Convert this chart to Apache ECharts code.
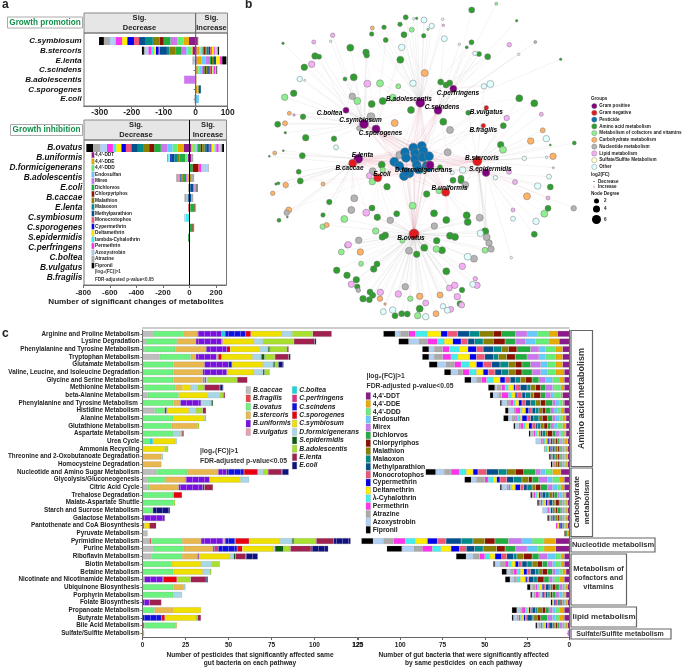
<!DOCTYPE html>
<html>
<head>
<meta charset="utf-8">
<title>Pesticides and gut bacteria</title>
<script src="https://cdn.jsdelivr.net/npm/echarts@6/dist/echarts.min.js"></script>
<style>
html, body { margin: 0; padding: 0; background: #fff; }
#main { width: 685px; height: 670px; }
</style>
</head>
<body>
<div id="main"></div>
<script>
var FONT = '"Liberation Sans", Arial, sans-serif';

// ---------- panel a ----------
var promoBacteria = ['C.symbiosum', 'B.stercoris', 'E.lenta', 'C.scindens', 'B.adolescentis', 'C.sporogenes', 'E.coli'];
var inhibBacteria = ['B.ovatus', 'B.uniformis', 'D.formicigenerans', 'B.adolescentis', 'E.coli', 'B.caccae', 'E.lenta',
    'C.symbiosum', 'C.sporogenes', 'S.epidermidis', 'C.perfringens', 'C.boltea', 'B.vulgatus', 'B.fragilis'];
var panelAPesticides = ["4,4'-DDT", "4,4'-DDE", "4,4'-DDD", 'Endosulfan', 'Mirex', 'Dichlorvos', 'Chlorpyriphos', 'Malathion', 'Malaoxon',
    'Methylparathion', 'Monocrotophos', 'Cypermethrin', 'Deltamethrin', 'lambda-Cyhalothrin', 'Permethrin', 'Azoxystrobin', 'Atrazine', 'Fipronil'];
var panelAColors = ['#8b1a8b', '#e6ac00', '#66ee77', '#66ccff', '#cc77ee', '#1fae3f', '#8b1100', '#8b8000', '#008b8b',
    '#04508f', '#ee5577', '#0000ee', '#ffee00', '#44eeee', '#ff33ee', '#b0d0f5', '#aaaaaa', '#000000'];

// rows follow promoBacteria, columns follow panelAPesticides
var promoDecrease = [
    [21, 16, 21, 0, 21, 21, 12, 22, 22, 21, 16, 21, 16, 0, 21, 17, 19, 15],
    [10, 3, 12, 5, 16, 18, 0, 18, 8, 22, 4, 8, 6, 8, 10, 9, 5, 6],
    [0, 0, 0, 0, 0, 0, 0, 0, 0, 3, 0, 0, 0, 0, 0, 3, 4, 0],
    [0, 0, 0, 0, 0, 0, 0, 0, 0, 0, 0, 0, 0, 0, 0, 2, 0, 0],
    [0, 0, 0, 0, 36, 0, 0, 0, 0, 0, 0, 0, 0, 0, 0, 0, 0, 0],
    [0, 0, 0, 0, 0, 0, 0, 0, 0, 0, 0, 0, 0, 0, 0, 0, 0, 0],
    [0, 0, 0, 0, 0, 0, 0, 0, 0, 0, 0, 0, 0, 0, 0, 0, 4, 0]
];
var promoIncrease = [
    [4, 0, 0, 0, 0, 0, 0, 4, 0, 0, 0, 0, 0, 0, 0, 0, 0, 0],
    [3, 8, 4, 3, 3, 5, 3, 5, 6, 5, 3, 2, 5, 3, 3, 4, 5, 3],
    [3, 14, 0, 14, 12, 5, 3, 3, 3, 4, 0, 3, 10, 2, 7, 0, 0, 13],
    [2, 6, 5, 5, 5, 5, 4, 3, 4, 5, 5, 2, 2, 4, 4, 2, 2, 2],
    [0, 2, 0, 0, 0, 0, 0, 0, 0, 0, 0, 0, 0, 0, 0, 0, 0, 0],
    [0, 6, 0, 2, 0, 0, 0, 2, 0, 6, 0, 0, 0, 0, 0, 0, 0, 0],
    [0, 0, 0, 10, 0, 0, 0, 0, 0, 0, 0, 0, 0, 0, 0, 0, 0, 0]
];
// rows follow inhibBacteria
var inhibDecrease = [
    [45, 45, 38, 38, 50, 50, 38, 40, 45, 50, 40, 35, 38, 25, 45, 50, 55, 50],
    [12, 4, 10, 4, 4, 40, 0, 20, 20, 20, 0, 12, 10, 6, 0, 4, 0, 2],
    [0, 0, 0, 0, 0, 0, 0, 0, 0, 0, 0, 0, 0, 0, 0, 0, 0, 0],
    [6, 6, 6, 0, 8, 20, 6, 10, 6, 6, 4, 0, 4, 0, 4, 0, 14, 0],
    [0, 0, 0, 0, 0, 0, 0, 0, 0, 4, 0, 0, 0, 0, 0, 0, 6, 0],
    [0, 0, 0, 0, 0, 0, 0, 0, 6, 6, 0, 0, 0, 0, 4, 6, 16, 0],
    [0, 0, 0, 0, 0, 0, 4, 0, 0, 0, 6, 0, 0, 0, 0, 0, 0, 0],
    [0, 0, 0, 0, 0, 0, 0, 0, 0, 0, 0, 0, 0, 30, 0, 10, 0, 0],
    [0, 0, 0, 0, 0, 0, 0, 0, 0, 0, 0, 0, 0, 0, 0, 0, 0, 0],
    [0, 0, 0, 0, 0, 10, 0, 0, 0, 0, 0, 0, 0, 0, 0, 0, 0, 0],
    [0, 0, 0, 0, 0, 0, 0, 0, 0, 0, 0, 0, 0, 0, 0, 0, 0, 0],
    [0, 0, 0, 0, 0, 0, 0, 0, 0, 0, 0, 0, 0, 0, 0, 0, 0, 0],
    [0, 0, 0, 0, 0, 0, 0, 0, 0, 0, 0, 0, 0, 0, 0, 0, 0, 0],
    [0, 0, 0, 0, 0, 0, 0, 0, 0, 0, 0, 0, 0, 0, 0, 0, 0, 0]
];
var inhibIncrease = [
    [12, 12, 20, 10, 10, 20, 12, 18, 12, 20, 12, 8, 22, 14, 18, 14, 12, 14],
    [12, 0, 0, 0, 0, 0, 0, 0, 0, 0, 0, 0, 0, 0, 0, 0, 16, 0],
    [0, 0, 0, 0, 0, 24, 40, 0, 0, 0, 8, 0, 0, 0, 18, 48, 7, 0],
    [0, 0, 0, 0, 0, 0, 0, 10, 0, 0, 0, 0, 0, 0, 0, 0, 25, 0],
    [0, 0, 0, 0, 0, 0, 0, 0, 6, 24, 0, 0, 0, 0, 8, 0, 16, 6],
    [0, 0, 0, 0, 0, 0, 0, 0, 0, 12, 0, 0, 0, 0, 0, 0, 16, 0],
    [0, 6, 0, 0, 0, 32, 4, 0, 0, 0, 0, 0, 0, 0, 0, 0, 8, 0],
    [0, 0, 0, 0, 0, 0, 0, 0, 0, 0, 0, 0, 0, 0, 0, 0, 0, 0],
    [0, 0, 0, 0, 0, 22, 5, 8, 0, 0, 0, 0, 0, 0, 0, 0, 0, 0],
    [0, 0, 0, 0, 0, 0, 0, 0, 0, 0, 0, 0, 0, 0, 0, 0, 0, 0],
    [0, 0, 0, 0, 0, 0, 0, 0, 0, 0, 3, 0, 0, 0, 0, 0, 0, 0],
    [0, 0, 0, 0, 0, 0, 0, 0, 0, 0, 0, 0, 0, 0, 0, 0, 0, 0],
    [0, 0, 0, 0, 0, 0, 0, 0, 0, 0, 0, 0, 0, 0, 0, 0, 0, 0],
    [0, 0, 0, 0, 0, 0, 0, 0, 0, 0, 0, 0, 0, 0, 0, 0, 0, 0]
];

// ---------- panel b ----------
var groupNames = ['Gram positive', 'Gram negative', 'Pesticide', 'Amino acid metabolism', 'Metabolism of cofactors and vitamins',
    'Carbohydrate metabolism', 'Nucleotide metabolism', 'Lipid metabolism', 'Sulfate/Sulfite Metabolism', 'Other'];
var groupColors = ['#800080', '#e41a1c', '#0a72b0', '#2e9e2e', '#90ee90', '#ffb366', '#b4b4b4', '#f5b0f5', '#ffffd4', '#e0ffff'];

// hubs: letter, name, x, y, diameter, group, label dx, label dy
var hubs = [
    ['p', 'C.perfringens', 453.3, 88.7, 7, 0, 4.7, 4.3],
    ['a', 'B.adolescentis', 420.3, 102.7, 9, 0, -11.3, -3.7],
    ['n', 'C.scindens', 438, 110.3, 8, 0, 4, -3.3],
    ['b', 'C.boltea', 346, 110.3, 6, 0, -16.5, 2.7],
    ['y', 'C.symbiosum', 364, 124, 9, 0, -3.5, -4],
    ['g', 'C.sporogenes', 376, 129, 8, 0, 4.5, 4.7],
    ['l', 'E.lenta', 358.3, 158.7, 9, 0, 4.2, -3.7],
    ['k', 'B.caccae', 352.7, 163.3, 8, 1, -3.2, 4.7],
    ['e', 'E.coli', 377.7, 177.7, 8, 1, 4.3, -3.7],
    ['m', 'D.formicigenerans', 430, 165, 8, 0, -6.5, 5],
    ['u', 'B.uniformis', 445.7, 192.3, 8, 1, 3.8, -4.3],
    ['o', 'B.ovatus', 414, 234, 10, 1, -3, 4.7],
    ['s', 'B.stercoris', 477.3, 161.3, 9, 1, 4.7, -3.3],
    ['d', 'S.epidermidis', 486, 172.7, 7.5, 0, 4.3, -3.2],
    ['v', 'B.vulgatus', 486.3, 107.7, 4.5, 1, 0, 4.3],
    ['f', 'B.fragilis', 483.3, 125.7, 4.5, 1, 0, 4.3]
];
// metabolite nodes: x, y, diameter, linked hubs (lower case decrease, upper case increase)
var aminoNodes = [
    [471.7, 10, 6, 'P'], [405.7, 17.3, 5, 'a'], [416.7, 18.3, 2.5, 'a'], [400, 24.3, 4.5, 'a'], [384, 27.3, 4.5, 'aN'], [371.7, 34, 4.5, 'a'],
    [404, 34.7, 6, 'aN'], [423.7, 35.7, 4.5, 'a'], [385.7, 40, 5, 'ag'], [283, 43.3, 2.5, 'y'], [471.5, 42.3, 5, 'an'], [466.7, 47.3, 3, 'n'],
    [479, 54, 5, 'nP'], [350.3, 47.7, 7, 'yA'], [366, 52.3, 6.5, 'yG'], [366.7, 55.3, 5.5, 'y'], [315, 56, 6.5, 'y'], [319, 56.7, 5, 'b'],
    [304.3, 67.3, 6.5, 'y'], [400.3, 59.7, 7, 'aG'], [487.7, 56.7, 6, 'an'], [353.7, 77.3, 7, 'yB'], [345, 79, 4, 'y'], [440.7, 82, 6, 'aN'],
    [446, 85, 6, 'an'], [449.7, 83, 6, 'n'], [293.7, 93.3, 6.5, 'y'], [382.7, 101, 7, 'gA'], [371.7, 104, 7, 'yA'], [411, 110, 7, 'aY'],
    [443.3, 121.7, 7, 'nA'], [303, 116.7, 5.5, 'y'], [277.7, 124.3, 6, 'y'], [285.3, 132.7, 2.5, 'y'], [305.7, 137.7, 6.5, 'y'], [334, 138.7, 5.5, 'y'],
    [283.3, 150.7, 2, 'l'], [269.3, 156.3, 2, 'k'], [302.3, 155.7, 6, 'l'], [468.3, 112.7, 5, 'sA'], [519.3, 98.3, 7, 'sN'], [534.3, 103.3, 7, 'sF'],
    [516.7, 20.7, 2.5, 'p'], [560.7, 59.3, 2.5, 'n'], [503.3, 125.7, 6, 'sF'], [500.7, 144.7, 6.5, 'sF'], [550.3, 145, 2, 's'], [574.3, 143, 4, 's'],
    [550.3, 187, 6, 'd'], [548, 208.3, 6, 'S'], [534.3, 234.3, 6, 'd'], [485.3, 231.7, 6.5, 'sd'], [426.7, 194, 6.5, 'oU'], [434, 213.3, 7, 'o'],
    [446.3, 220, 7, 'oU'], [466.7, 215.3, 7, 'ou'], [467.7, 222, 7, 'ou'], [436.7, 240.7, 6.5, 'O'], [450, 235.7, 7, 'oU'], [455, 237, 7, 'oU'],
    [424.3, 247.7, 7, 'o'], [442, 250.3, 7, 'O'], [416.7, 254.3, 6.5, 'o'], [446.3, 271.3, 7, 'o'], [462, 290, 5.5, 'o'], [460, 303.7, 6, 'o'],
    [419.7, 308.7, 7, 'o'], [401.7, 313.7, 6, 'o'], [407.3, 314, 6, 'o'], [298.7, 171.7, 5, 'k'], [278.3, 183.3, 3, 'k'], [276, 184, 2.5, 'k'],
    [300.3, 181, 6, 'kE'], [381.7, 164.7, 7, 'eL'], [387, 186.7, 6.5, 'eO'], [329.3, 202, 5.5, 'k'], [372, 208, 6, 'oE'], [323, 215, 4.5, 'k'],
    [396.7, 213.7, 6, 'oE'], [377.3, 217.3, 6.5, 'oE'], [279, 220.3, 4, 'k'], [287.3, 217, 2, 'k'], [385.3, 235.3, 6.5, 'o'], [382.3, 237, 6.5, 'O'],
    [377, 264, 6, 'o'], [373.7, 269, 6.5, 'o'], [336.7, 270.3, 6.5, 'o'], [347, 275.3, 6.5, 'o'], [356.3, 279.7, 6.5, 'o'], [357.3, 286.7, 5.5, 'o'],
    [370, 292, 6, 'o'], [372.7, 295.3, 6, 'o'], [363, 298.7, 6.5, 'o'], [369.3, 299.7, 6, 'o'], [395, 315.7, 6, 'o'], [453, 180.3, 6, 'uS'],
    [461, 178.3, 6, 'us'], [461, 180.7, 6, 'sD'], [420.7, 171, 5, 'mO'], [440, 167.3, 5, 'mU'], [485, 231.3, 7, 'so']
];
var cofactorNodes = [
    [411.7, 29.7, 5, 'a'], [428, 29.3, 2.5, 'a'], [380, 83.3, 7, 'aY'], [398.3, 86.3, 5, 'a'], [392.7, 97.7, 7, 'A'], [357.3, 101, 7, 'yG'],
    [284.7, 97.3, 6.5, 'y'], [496.3, 3.7, 3, 'p'], [503, 149.7, 7, 'S'], [544.3, 213.7, 7, 'D'], [382.7, 170, 5.5, 'eK'], [372.3, 181.7, 6.5, 'eK'],
    [412.7, 205.7, 7, 'oU'], [344.3, 219, 7, 'o'], [322.7, 226.7, 5.5, 'k'], [375.7, 231, 6.5, 'o'], [402.3, 240.7, 5, 'o'], [341.3, 252, 6, 'o'],
    [361, 263.7, 5, 'o'], [436.3, 249, 6.5, 'o'], [439, 190.7, 6, 'uO'], [410.3, 298.7, 5.5, 'o'], [417.7, 315.7, 6.5, 'o'], [485, 250.3, 6, 'o']
];
var carbNodes = [
    [372.3, 28, 4, 'a'], [424.7, 73, 7, 'aN'], [394.7, 123, 7, 'yG'], [289.3, 113.3, 4, 'y'], [285, 123.3, 5, 'y'], [274.7, 153, 4, 'l'],
    [542.7, 130.3, 5, 's'], [530.7, 141, 6.5, 'S'], [553, 156.3, 6.5, 's'], [527, 196.3, 7, 'D'], [285.7, 185, 5.5, 'K'], [272.7, 193.3, 4.5, 'k'],
    [323, 184, 4, 'E'], [288.7, 210, 6, 'E'], [326.7, 225, 5, 'o'], [360.3, 252, 6.5, 'o'], [380, 298.7, 5.5, 'o'], [385, 304, 2.5, 'o'],
    [419.7, 296.3, 6.5, 'o'], [440, 295, 6, 'o'], [436, 313.7, 6, 'o']
];
var nucleotideNodes = [
    [352.3, 96.3, 6.5, 'yA'], [371, 116.7, 8, 'yG'], [359, 128.3, 5, 'y'], [450, 130, 7, 'nS'], [399.3, 155, 7, 'gL'], [447.7, 152.3, 7, 'sN'],
    [573.7, 208.3, 5.5, 'd'], [479.7, 217.7, 7, 'ou'], [486.7, 237.3, 7, 'os'], [286.7, 212.7, 5.5, 'k'], [354.3, 198.3, 7, 'kO'], [351.3, 210, 7, 'kO'],
    [372.7, 171.3, 7, 'kE'], [390.3, 220.3, 6.5, 'oe'], [434.3, 226, 6.5, 'O'], [358.7, 240.3, 6.5, 'o'], [347.3, 245.3, 5.5, 'o'], [409, 250.7, 7, 'o'],
    [405.3, 286.7, 6.5, 'o'], [358.3, 290.3, 4.5, 'o'], [474, 258.7, 7, 'o'], [465.3, 185, 7, 'us'], [489, 243, 6.5, 's'], [491, 249, 6.5, 'so'],
    [535.3, 42, 3, 'n']
];
var lipidNodes = [
    [332.7, 35.3, 4.5, 'y'], [313.7, 42, 4, 'y'], [311.7, 64.3, 6.5, 'y'], [367.3, 83.7, 7, 'yA'], [443.3, 25.3, 2.5, 'a'], [294, 115, 2.5, 'b'],
    [509.3, 44.7, 4.5, 'P'], [506.7, 118, 5.5, 'V'], [541.3, 114.3, 4, 's'], [509, 171.7, 5, 'D'], [515, 182, 5, 'D'], [553.3, 167.7, 2, 's'],
    [548, 198, 4, 'D'], [513, 210, 4, 's'], [369.3, 175.7, 6, 'K'], [366.3, 212.7, 7, 'oK'], [348.3, 244.7, 6.5, 'o'], [351.3, 284.3, 6.5, 'o'],
    [380.3, 292.3, 6.5, 'o'], [398.3, 294, 6.5, 'o'], [425.7, 303, 6, 'o'], [449.3, 288, 6, 'o'], [454.7, 285.3, 6.5, 'o'], [457.3, 296.7, 6.5, 'o'],
    [461.7, 305, 6, 'o'], [450.7, 309.3, 6, 'o'], [462.3, 266.3, 6.5, 'o'], [475.3, 278.7, 4.5, 'o'], [477, 285.3, 6.5, 'o']
];
var sulfateNodes = [[304.7, 80.3, 2, 'y']];
var otherNodes = [
    [413.7, 18.7, 2.5, 'a'], [424, 20, 6, 'a'], [431.7, 26, 5.5, 'a'], [442.7, 19.3, 2.5, 'a'], [444.3, 38.7, 6, 'n'], [459.3, 44.3, 2.5, 'n'],
    [475, 53.3, 4.5, 'n'], [401.7, 47.3, 6.5, 'ag'], [330.7, 41.3, 2.5, 'y'], [299.7, 79, 5.5, 'y'], [413, 83.3, 6.5, 'aN'], [336, 147.3, 5, 'l'],
    [518.7, 54.3, 2.5, 'n'], [484, 86.3, 5.5, 'sP'], [490.3, 84, 7, 'p'], [546.3, 138.7, 6.5, 's'], [524.3, 158.3, 4.5, 's'], [546.7, 157.3, 2.5, 's'],
    [495.3, 177.7, 4.5, 'D'], [549, 176.7, 5, 'd'], [537.7, 186, 6.5, 'd'], [513, 218.7, 5, 'S'], [536, 221.3, 6.5, 'd'], [480.3, 233.3, 6.5, 'so'],
    [462.7, 170, 6.5, 'S'], [452.3, 172.7, 4, 'sM'], [383.3, 311.7, 6, 'o'], [392.7, 310, 6.5, 'o'], [425.7, 316.7, 6.5, 'o'], [443, 306.3, 5.5, 'o'],
    [447.3, 310.3, 6, 'o'], [467.7, 256.7, 7, 'o'], [472.7, 284.3, 6, 'o'], [511.3, 257.7, 2.5, 'd']
];
// pesticide nodes: x, y and the bacteria each one changes
var pesticideNodes = [
    [413.3, 147.7, 9, 'OoUSsYyKLEGAaMNpb'], [421.7, 146, 9, 'OUuSdYKlEgAMNpf'], [405, 152.3, 9, 'OoUSDYyLkEGaAN'], [415, 153.3, 9, 'OUuSdKLEyGANMb'],
    [423.3, 151, 9, 'OoUSDYlKEGAnMv'], [406, 157.7, 9, 'OUSsYKLEeGAN'], [415, 159, 9, 'OoUuSDyKLEGaMp'], [422.7, 157.3, 9, 'OUSdYKLeGANf'],
    [429, 156.3, 9, 'OoUSDYKLEgAMb'], [394.3, 161.7, 9, 'OUSsYkLEGaNv'], [399.3, 166, 9, 'OoUSDyKLEGAMN'], [416.7, 165, 9, 'OUuSYKlEGANp'],
    [426.7, 165.7, 9, 'OoUSdYKLEGaN'], [418.3, 169.3, 9, 'OUSDyKLEGAMf'], [409.3, 173.3, 9, 'OoUSYKLeGANb'], [404, 176, 9, 'OUuSDYKLEgAM'],
    [406, 172, 9, 'OoUSYkLEGAN'], [428.7, 167.3, 9, 'OUSdYKLEGaMv']
];

// ---------- panel c ----------
var pathways = ['Arginine and Proline Metabolism', 'Lysine Degradation', 'Phenylalanine and Tyrosine Metabolism', 'Tryptophan Metabolism',
    'Glutamate Metabolism', 'Valine, Leucine, and Isoleucine Degradation', 'Glycine and Serine Metabolism', 'Methionine Metabolism',
    'beta-Alanine Metabolism', 'Phenylalanine and Tyrosine Metabolism ', 'Histidine Metabolism', 'Alanine Metabolism', 'Glutathione Metabolism',
    'Aspartate Metabolism', 'Urea Cycle', 'Ammonia Recycling', 'Threonine and 2-Oxobutanoate Degradation', 'Homocysteine Degradation',
    'Nucleotide and Amino Sugar Metabolism', 'Glycolysis/Gluconeogenesis', 'Citric Acid Cycle', 'Trehalose Degradation', 'Malate-Aspartate Shuttle',
    'Starch and Sucrose Metabolism', 'Galactose Metabolism', 'Pantothenate and CoA Biosynthesis', 'Pyruvate Metabolism', 'Pyrimidine Metabolism',
    'Purine Metabolism', 'Riboflavin Metabolism', 'Biotin Metabolism', 'Betaine Metabolism', 'Nicotinate and Nicotinamide Metabolism',
    'Ubiquinone Biosynthesis', 'Porphyrin Metabolism', 'Folate Biosynthesis', 'Propanoate Metabolism', 'Butyrate Metabolism', 'Bile Acid Metabolism',
    'Sulfate/Sulfite Metabolism'];
var panelCBacteria = ['B.caccae', 'B.fragilis', 'B.ovatus', 'B.stercoris', 'B.uniformis', 'B.vulgatus', 'C.boltea', 'C.perfringens', 'C.scindens',
    'C.sporogenes', 'C.symbiosum', 'D.formicigenerans', 'S.epidermidis', 'B.adolescentis', 'E.lenta', 'E.coli'];
var panelCBacteriaColors = ['#bdbdbd', '#e8454a', '#6cf27e', '#e8b84f', '#7a10e0', '#e8a0b0', '#10d8e0', '#e03080', '#1010e0',
    '#e80010', '#f0e000', '#a8d8e8', '#0c5c10', '#a8e030', '#a02050', '#101080'];
// rows follow pathways, columns follow panelCBacteria
var bacteriaPerPathway = [
    [6, 0, 18, 8, 14, 0, 2, 0, 12, 3, 18, 6, 0, 12, 11, 0],
    [2, 0, 18, 11, 15, 1, 0, 0, 0, 0, 18, 5, 0, 18, 12, 1],
    [1, 0, 18, 18, 12, 0, 0, 0, 0, 2, 17, 5, 1, 10, 1, 0],
    [10, 0, 18, 3, 12, 1, 0, 0, 0, 2, 18, 5, 2, 6, 8, 1],
    [0, 0, 18, 18, 14, 0, 0, 0, 2, 0, 18, 6, 1, 2, 0, 3],
    [0, 0, 18, 17, 14, 0, 0, 0, 0, 0, 16, 5, 1, 3, 0, 0],
    [0, 0, 18, 17, 0, 0, 1, 1, 0, 0, 0, 1, 0, 17, 6, 0],
    [1, 0, 18, 4, 0, 0, 0, 0, 0, 0, 5, 4, 0, 4, 9, 2],
    [3, 0, 18, 0, 0, 0, 0, 0, 0, 0, 17, 7, 0, 2, 1, 0],
    [0, 0, 18, 4, 12, 0, 0, 0, 0, 0, 0, 6, 1, 0, 0, 0],
    [7, 0, 6, 0, 0, 0, 0, 0, 1, 0, 13, 4, 0, 4, 2, 0],
    [0, 0, 18, 0, 0, 0, 0, 0, 0, 0, 18, 0, 0, 1, 0, 0],
    [0, 0, 17, 15, 0, 0, 0, 0, 0, 0, 0, 0, 0, 1, 0, 0],
    [0, 0, 18, 0, 0, 0, 0, 0, 0, 0, 0, 4, 0, 1, 1, 0],
    [0, 0, 4, 0, 0, 0, 2, 0, 0, 0, 13, 1, 0, 0, 0, 0],
    [0, 0, 0, 0, 0, 0, 0, 0, 0, 0, 13, 0, 0, 2, 0, 0],
    [0, 0, 0, 11, 0, 0, 0, 0, 0, 0, 0, 1, 0, 0, 0, 0],
    [0, 0, 0, 11, 0, 0, 0, 0, 0, 0, 0, 0, 0, 0, 0, 0],
    [8, 0, 18, 18, 5, 0, 0, 0, 10, 8, 0, 3, 0, 3, 8, 4],
    [3, 0, 10, 12, 14, 0, 0, 0, 0, 0, 18, 5, 0, 0, 0, 0],
    [3, 0, 1, 17, 14, 0, 0, 0, 0, 0, 0, 0, 1, 0, 5, 0],
    [0, 0, 18, 0, 0, 0, 0, 0, 0, 5, 0, 0, 0, 0, 0, 0],
    [0, 0, 18, 0, 0, 0, 0, 0, 0, 0, 0, 0, 0, 1, 0, 0],
    [0, 0, 6, 0, 0, 0, 0, 0, 0, 0, 0, 0, 0, 0, 0, 10],
    [0, 0, 0, 0, 13, 0, 0, 0, 0, 0, 0, 0, 0, 0, 0, 0],
    [0, 1, 0, 0, 0, 0, 0, 0, 0, 0, 3, 0, 0, 0, 4, 0],
    [3, 0, 0, 0, 0, 0, 0, 0, 0, 0, 0, 0, 0, 0, 0, 0],
    [4, 1, 18, 11, 13, 1, 0, 0, 6, 8, 18, 7, 1, 13, 10, 10],
    [6, 0, 18, 17, 1, 0, 0, 2, 11, 3, 18, 1, 5, 4, 12, 10],
    [5, 0, 18, 9, 1, 0, 0, 0, 0, 0, 18, 2, 1, 0, 6, 7],
    [0, 0, 17, 0, 0, 0, 0, 0, 0, 0, 17, 6, 0, 5, 0, 0],
    [0, 0, 18, 0, 0, 0, 0, 0, 0, 0, 17, 4, 0, 1, 0, 0],
    [0, 0, 1, 0, 11, 0, 0, 0, 0, 8, 0, 0, 0, 8, 9, 1],
    [0, 0, 18, 6, 0, 0, 0, 0, 0, 0, 0, 1, 0, 0, 0, 0],
    [0, 0, 18, 0, 0, 0, 0, 0, 0, 0, 0, 5, 0, 0, 0, 0],
    [0, 0, 0, 0, 4, 0, 0, 0, 0, 0, 0, 0, 0, 0, 7, 0],
    [0, 0, 7, 11, 0, 0, 0, 0, 0, 0, 16, 0, 0, 0, 0, 0],
    [0, 0, 0, 0, 0, 0, 0, 0, 11, 2, 18, 0, 0, 1, 2, 0],
    [0, 1, 18, 1, 0, 0, 0, 0, 0, 0, 0, 0, 0, 0, 0, 0],
    [0, 0, 0, 1, 0, 0, 0, 0, 0, 0, 0, 0, 0, 0, 0, 0]
];
var panelCPesticides = ["4,4'-DDT", "4,4'-DDE", "4,4'-DDD", 'Endosulfan', 'Mirex', 'Dichlorvos', 'Chlorpyriphos', 'Malathion', 'Malaoxon',
    'Methylparathion', 'Monocrotophos', 'Cypermethrin', 'Deltamethrin', 'λ-Cyhalothrin', 'Permethrin', 'Atrazine', 'Azoxystrobin', 'Fipronil'];
var panelCPesticideColors = ['#8b1a8b', '#e6ac00', '#66ee77', '#66ccff', '#cc77ee', '#1fae3f', '#8b1100', '#8b8000', '#008b8b',
    '#04508f', '#ee5577', '#0000ee', '#ffee00', '#44eeee', '#ff33ee', '#aaaaaa', '#b0d0f5', '#000000'];
// rows follow pathways, columns follow panelCPesticides
var pesticidesPerPathway = [
    [7, 5, 7, 6, 7, 8, 5, 8, 6, 7, 6, 4, 8, 7, 4, 5, 3, 7],
    [6, 6, 8, 6, 6, 6, 7, 6, 5, 4, 4, 5, 5, 4, 6, 5, 6, 6],
    [4, 4, 6, 4, 5, 8, 5, 4, 5, 6, 4, 5, 5, 6, 4, 5, 3, 4],
    [4, 4, 6, 4, 7, 7, 5, 5, 3, 5, 5, 4, 7, 4, 5, 5, 3, 4],
    [4, 4, 5, 4, 6, 5, 4, 4, 5, 5, 5, 4, 4, 5, 4, 5, 5, 5],
    [3, 5, 5, 4, 5, 6, 4, 4, 4, 4, 4, 3, 4, 4, 4, 3, 4, 4],
    [3, 3, 4, 4, 4, 4, 4, 3, 3, 3, 3, 3, 4, 4, 3, 3, 3, 4],
    [3, 2, 4, 1, 4, 3, 3, 3, 2, 4, 3, 1, 3, 2, 2, 3, 1, 4],
    [4, 1, 4, 2, 3, 3, 4, 2, 3, 2, 3, 1, 2, 2, 4, 2, 3, 2],
    [3, 1, 2, 2, 2, 4, 3, 3, 3, 3, 2, 2, 2, 1, 2, 2, 3, 1],
    [3, 2, 2, 2, 2, 3, 2, 2, 2, 2, 2, 2, 2, 1, 3, 1, 3, 2],
    [2, 2, 2, 2, 2, 3, 3, 2, 3, 2, 2, 3, 1, 2, 1, 2, 2, 3],
    [2, 2, 3, 2, 2, 2, 2, 2, 2, 1, 2, 2, 2, 1, 2, 1, 2, 1],
    [2, 1, 2, 1, 2, 2, 3, 1, 2, 1, 1, 0, 1, 1, 1, 1, 1, 1],
    [1, 2, 1, 1, 1, 1, 1, 1, 1, 1, 1, 1, 1, 1, 1, 1, 3, 0],
    [1, 1, 1, 1, 1, 1, 1, 1, 1, 1, 1, 1, 1, 1, 0, 1, 0, 0],
    [1, 1, 1, 1, 1, 1, 1, 1, 1, 1, 0, 0, 0, 0, 0, 1, 0, 1],
    [1, 1, 1, 1, 1, 1, 1, 1, 0, 0, 1, 0, 0, 0, 0, 1, 0, 1],
    [5, 5, 4, 3, 3, 7, 5, 5, 5, 7, 5, 3, 4, 4, 5, 4, 5, 6],
    [3, 3, 4, 3, 5, 4, 2, 4, 5, 4, 4, 2, 2, 3, 2, 5, 3, 4],
    [3, 2, 2, 3, 3, 4, 3, 2, 3, 2, 2, 3, 2, 1, 1, 1, 3, 1],
    [2, 1, 1, 2, 1, 2, 1, 2, 2, 2, 1, 1, 1, 1, 1, 1, 0, 1],
    [1, 1, 1, 1, 1, 1, 2, 1, 1, 2, 1, 1, 1, 1, 1, 1, 0, 1],
    [1, 1, 1, 1, 1, 2, 1, 1, 1, 1, 0, 0, 0, 1, 1, 0, 3, 0],
    [1, 1, 1, 1, 1, 1, 1, 1, 1, 1, 0, 0, 0, 0, 1, 1, 0, 1],
    [1, 1, 1, 0, 1, 0, 0, 0, 0, 1, 0, 1, 1, 0, 1, 0, 0, 0],
    [0, 1, 0, 0, 0, 1, 1, 0, 0, 0, 0, 0, 0, 0, 0, 0, 0, 0],
    [8, 7, 7, 6, 8, 8, 6, 7, 7, 9, 5, 6, 7, 6, 7, 6, 6, 7],
    [8, 7, 4, 6, 7, 6, 5, 8, 5, 5, 4, 5, 6, 5, 6, 5, 7, 9],
    [3, 2, 3, 5, 5, 4, 5, 4, 2, 4, 3, 4, 3, 3, 3, 4, 4, 6],
    [3, 2, 3, 2, 3, 3, 3, 3, 3, 3, 2, 2, 2, 2, 2, 3, 3, 1],
    [2, 2, 2, 2, 2, 3, 3, 2, 2, 3, 2, 2, 2, 2, 2, 2, 2, 3],
    [3, 3, 3, 1, 2, 3, 4, 0, 2, 3, 1, 1, 3, 2, 0, 2, 2, 3],
    [1, 1, 1, 1, 2, 2, 2, 1, 1, 2, 1, 1, 2, 1, 1, 2, 1, 2],
    [2, 1, 1, 2, 2, 2, 1, 1, 1, 1, 1, 1, 1, 1, 2, 1, 1, 1],
    [1, 1, 0, 1, 1, 1, 1, 0, 1, 0, 1, 1, 1, 0, 0, 0, 0, 1],
    [3, 3, 2, 2, 2, 2, 2, 3, 1, 2, 1, 1, 1, 1, 2, 1, 2, 3],
    [3, 3, 2, 2, 3, 4, 2, 2, 1, 3, 1, 1, 1, 1, 1, 1, 2, 1],
    [1, 1, 1, 1, 2, 1, 1, 1, 1, 2, 1, 1, 1, 1, 1, 1, 1, 1],
    [0, 0, 0, 0, 1, 0, 0, 0, 0, 0, 0, 0, 0, 0, 0, 0, 0, 0]
];

// 深色的条带上有细小的竖纹
var stripedBacteria = ['B.uniformis', 'C.scindens', 'E.coli'];

// 画堆叠条形图的系列
function stackSeries(rows, names, colors, sign, gridIdx, stack, barWidth, border) {
    return names.map(function (name, j) {
        var style = { color: colors[j], borderColor: border ? 'rgba(110,110,110,.35)' : null, borderWidth: border ? 0.5 : 0 };
        if (border && stripedBacteria.indexOf(name) >= 0) {
            style.decal = { symbol: 'rect', symbolSize: 1, color: 'rgba(255,255,255,.3)', dashArrayX: [0.7, 4.5], dashArrayY: [10, 0] };
        }
        return {
            name: name,
            type: 'bar',
            stack: stack,
            xAxisIndex: gridIdx,
            yAxisIndex: gridIdx,
            barWidth: barWidth,
            itemStyle: style,
            data: rows.map(function (r) { return r[j] ? sign * r[j] : null; })
        };
    });
}

function barXAxis(gridIdx, opt) {
    return Object.assign({
        gridIndex: gridIdx,
        type: 'value',
        splitLine: { show: false },
        axisLine: { show: true, lineStyle: { color: '#666', width: 1 } },
        axisTick: { show: true, length: 3, lineStyle: { color: '#666' } }
    }, opt);
}
function barYAxis(gridIdx, cats, opt) {
    return Object.assign({
        gridIndex: gridIdx,
        type: 'category',
        inverse: true,
        data: cats,
        axisLine: { show: true, lineStyle: { color: '#666', width: 1 } },
        axisTick: { show: true, length: 2, alignWithLabel: true, lineStyle: { color: '#666' } }
    }, opt);
}

// 网络图节点和边
var graphNodes = [];
var graphLinks = [];
var hubIndex = {};
var pendingLinks = [];
function addNodes(list, group) {
    list.forEach(function (n) {
        pendingLinks.push([graphNodes.length, n[3]]);
        graphNodes.push({ name: 'n' + graphNodes.length, value: [n[0], n[1]], symbolSize: n[2], category: group });
    });
}
addNodes(aminoNodes, 3);
addNodes(cofactorNodes, 4);
addNodes(carbNodes, 5);
addNodes(nucleotideNodes, 6);
addNodes(lipidNodes, 7);
addNodes(sulfateNodes, 8);
addNodes(otherNodes, 9);
addNodes(pesticideNodes, 2);
hubs.forEach(function (h) {
    hubIndex[h[0]] = graphNodes.length;
    graphNodes.push({
        name: h[1], value: [h[2], h[3]], symbolSize: h[4], category: h[5],
        label: { show: true, position: 'inside', offset: [h[6], h[7]], formatter: h[1] }
    });
});
pendingLinks.forEach(function (p) {
    p[1].split('').forEach(function (c) {
        var low = c.toLowerCase();
        graphLinks.push({
            source: p[0],
            target: hubIndex[low],
            lineStyle: { color: c === low ? 'rgba(140,140,140,.24)' : 'rgba(244,160,180,.28)', width: 0.8 }
        });
    });
});

// 图上的方框、文字
function box(x, y, w, h, fill, stroke, lw) {
    return { type: 'rect', shape: { x: x, y: y, width: w, height: h }, style: { fill: fill || 'none', stroke: stroke || '#777', lineWidth: lw || 1 }, z: 1 };
}
function label(text, x, y, font, opt) {
    return {
        type: 'text', x: x, y: y, z: 20, rotation: (opt && opt.rotation) || 0,
        style: {
            text: text, font: font + ' ' + FONT, fill: (opt && opt.fill) || '#222',
            textAlign: (opt && opt.align) || 'left', textVerticalAlign: 'middle', lineHeight: opt && opt.lineHeight
        }
    };
}
function line(x1, y1, x2, y2, color, w) {
    return { type: 'line', z: 15, shape: { x1: x1, y1: y1, x2: x2, y2: y2 }, style: { stroke: color, lineWidth: w } };
}
function dot(x, y, r, color, stroke) {
    return { type: 'circle', z: 20, shape: { cx: x, cy: y, r: r }, style: { fill: color, stroke: stroke || null, lineWidth: stroke ? 0.4 : 0 } };
}
function swatchList(names, colors, sx, y0, dy, sw, sh, tx, font) {
    var out = [];
    names.forEach(function (name, i) {
        var y = y0 + i * dy;
        out.push({ type: 'rect', z: 20, shape: { x: sx, y: y - sh / 2, width: sw, height: sh }, style: { fill: colors[i], stroke: 'rgba(120,120,120,.5)', lineWidth: 0.4 } });
        out.push(label(name, tx, y, font));
    });
    return out;
}
function dotList(names, colors, cx, y0, dy, r, tx, font) {
    var out = [];
    names.forEach(function (name, i) {
        out.push(dot(cx, y0 + i * dy, r, colors[i], '#777'));
        out.push(label(name, tx, y0 + i * dy, font));
    });
    return out;
}

var graphics = [
    label('a', 2, 5, 'bold 12px'), label('b', 245, 5, 'bold 12px'), label('c', 2, 334, 'bold 12px'),
    box(7.5, 17, 75, 11, '#fff', '#aaa'), label('Growth promotion', 45, 22.5, 'bold 8.2px', { align: 'center', fill: '#12904a' }),
    box(84, 13, 111.5, 20, '#e6e6e6', '#888'), box(195.5, 13, 32, 20, '#e6e6e6', '#888'),
    label('Sig.\nDecrease', 139.5, 23, 'bold 7.5px', { align: 'center', lineHeight: 10 }),
    label('Sig.\nIncrease', 211.5, 23, 'bold 7.5px', { align: 'center', lineHeight: 10 }),
    box(84, 33, 143.5, 73, 'none', '#777'),
    line(195.7, 13, 195.7, 106, '#666', 1),
    box(10.5, 124.5, 72, 11, '#fff', '#aaa'), label('Growth inhibition', 46.5, 130, 'bold 8.2px', { align: 'center', fill: '#12904a' }),
    box(84, 120, 105.5, 20, '#e6e6e6', '#888'), box(189.5, 120, 37, 20, '#e6e6e6', '#888'),
    label('Sig.\nDecrease', 136, 130, 'bold 7.5px', { align: 'center', lineHeight: 10 }),
    label('Sig.\nIncrease', 208, 130, 'bold 7.5px', { align: 'center', lineHeight: 10 }),
    box(84, 140, 142.5, 145, 'none', '#777'),
    line(189.5, 120, 189.5, 285, '#000', 1),
    label('|log₂(FC)|>1', 95, 272, 'bold 4.6px', { fill: '#333' }),
    label('FDR-adjusted p-value<0.05', 95, 280, 'bold 4.6px', { fill: '#333' }),
    label('Number of significant changes of metabolites', 136, 301.5, 'bold 8.1px', { align: 'center' }),

    label('Groups', 591, 99, 'bold 4.6px'),
    label('log2(FC)', 591, 175, 'bold 4.6px'),
    dot(594, 181.5, 0.6, '#111'), label('Decrease', 598, 181.5, 'bold 4.6px'),
    dot(594, 187, 0.6, '#c02040'), label('Increase', 598, 187, 'bold 4.6px'),
    label('Node Degree', 591, 193.5, 'bold 4.6px'),
    dot(596.5, 201, 2.5, '#000'), label('2', 604, 201, 'bold 4.6px'),
    dot(596.5, 209, 3.5, '#000'), label('4', 604, 209, 'bold 4.6px'),
    dot(596.5, 219.5, 4.5, '#000'), label('6', 604, 219.5, 'bold 4.6px'),

    line(142, 328, 569.5, 328, '#bdbdbd', 1.5),
    label('|log₂(FC)|>1', 200, 451, 'bold 6.8px', { fill: '#333' }),
    label('FDR-adjusted p-value<0.05', 200, 460.7, 'bold 6.8px', { fill: '#333' }),
    label('|log₂(FC)|>1', 366.5, 375.7, 'bold 6.8px', { fill: '#333' }),
    label('FDR-adjusted p-value<0.05', 366.5, 385.7, 'bold 6.8px', { fill: '#333' }),
    label('Number of pesticides that significantly affected same\ngut bacteria on each pathway', 250, 659, 'bold 6.6px', { align: 'center', lineHeight: 8 }),
    label('Number of gut bacteria that were significantly affected\nby same pesticides  on each pathway', 463.7, 659, 'bold 6.6px', { align: 'center', lineHeight: 8 }),

    box(571, 330.5, 21.5, 136, '#fff', '#666', 1.2),
    label('Amino acid metabolism', 581.5, 398.5, 'bold 9px', { align: 'center', rotation: Math.PI / 2, fill: '#333' }),
    box(571, 468, 21.5, 68.5, '#fff', '#666', 1.2),
    label('Carbohydrate\nmetabolism', 581.5, 502, 'bold 8px', { align: 'center', rotation: Math.PI / 2, fill: '#333', lineHeight: 10 }),
    box(571, 538, 84, 14, '#fff', '#666', 1.2),
    label('Nucleotide metabolism', 613, 545, 'bold 7.5px', { align: 'center', fill: '#333' }),
    box(571, 554, 55.5, 51, '#fff', '#666', 1.2),
    label('Metabolism of\ncofactors and\nvitamins', 598.5, 578, 'bold 7.5px', { align: 'center', fill: '#333', lineHeight: 9 }),
    box(571, 607, 65.5, 20, '#fff', '#666', 1.2),
    label('lipid metabolism', 604, 617, 'bold 8px', { align: 'center', fill: '#333' }),
    box(571, 629, 100, 10, '#fff', '#666', 1.2),
    label('Sulfate/Sulfite metabolism', 620, 634, 'bold 7px', { align: 'center', fill: '#333' })
]
    .concat(swatchList(panelAPesticides, panelAColors, 91.7, 155, 6.5, 2.5, 5.5, 95, 'bold 4.8px'))
    .concat(dotList(groupNames, groupColors, 594.3, 106, 6.77, 2.6, 599.3, 'bold 4.6px'))
    .concat(swatchList(panelCBacteria.slice(0, 6), panelCBacteriaColors.slice(0, 6), 246, 390, 8.4, 4.5, 7, 253, 'italic bold 6.8px'))
    .concat(swatchList(panelCBacteria.slice(6), panelCBacteriaColors.slice(6), 292.3, 390, 8.4, 4.5, 7, 299.3, 'italic bold 6.8px'))
    .concat(swatchList(panelCPesticides, panelCPesticideColors, 366, 396, 7.87, 4.5, 7, 372.7, 'bold 6.8px'));

var series = []
    .concat(stackSeries(promoDecrease, panelAPesticides, panelAColors, -1, 0, 'a1', 8, false))
    .concat(stackSeries(promoIncrease, panelAPesticides, panelAColors, 1, 0, 'a1', 8, false))
    .concat(stackSeries(inhibDecrease, panelAPesticides, panelAColors, -1, 1, 'a2', 8, false))
    .concat(stackSeries(inhibIncrease, panelAPesticides, panelAColors, 1, 1, 'a2', 8, false))
    .concat(stackSeries(bacteriaPerPathway, panelCBacteria, panelCBacteriaColors, 1, 3, 'c1', 6, true))
    .concat(stackSeries(pesticidesPerPathway, panelCPesticides, panelCPesticideColors, 1, 4, 'c2', 6, true));

series.push({
    type: 'graph',
    layout: 'none',
    coordinateSystem: 'cartesian2d',
    xAxisIndex: 2,
    yAxisIndex: 2,
    data: graphNodes,
    links: graphLinks,
    categories: groupNames.map(function (g, i) { return { name: g, itemStyle: { color: groupColors[i] } }; }),
    itemStyle: { borderColor: '#777', borderWidth: 0.5 },
    label: { show: false, color: '#000', fontFamily: FONT, fontWeight: 'bold', fontStyle: 'italic', fontSize: 6.5 },
    silent: true,
    z: 2
});

var option = {
    animation: false,
    backgroundColor: '#fff',
    textStyle: { fontFamily: FONT },
    grid: [
        { left: 83.7, top: 36.2, width: 144, height: 67.7 },
        { left: 83.3, top: 143, width: 142.7, height: 139.7 },
        { left: 240, top: 0, width: 345, height: 330 },
        { left: 142.5, top: 330, width: 215, height: 307 },
        { left: 358, top: 330, width: 211.3, height: 307 }
    ],
    xAxis: [
        barXAxis(0, {
            min: -350, max: 100, offset: 2.1,
            axisTick: { show: true, length: 3, customValues: [-300, -200, -100, 0, 100], lineStyle: { color: '#666' } },
            axisLabel: { customValues: [-300, -200, -100, 0, 100], fontSize: 8.4, fontWeight: 'bold', color: '#222', margin: 3 }
        }),
        barXAxis(1, {
            min: -800, max: 275, offset: 2.3,
            axisTick: { show: true, length: 3, customValues: [-800, -600, -400, -200, 0, 200], lineStyle: { color: '#666' } },
            axisLabel: { customValues: [-800, -600, -400, -200, 0, 200], fontSize: 7.8, fontWeight: 'bold', color: '#222', margin: 4 }
        }),
        { gridIndex: 2, type: 'value', min: 240, max: 585, show: false },
        barXAxis(3, {
            min: 0, max: 125, interval: 25,
            axisLabel: { fontSize: 6.5, fontWeight: 'bold', color: '#222', margin: 5 }
        }),
        barXAxis(4, {
            min: 0, max: 125, interval: 25, inverse: true,
            axisLabel: { fontSize: 6.5, fontWeight: 'bold', color: '#222', margin: 5 }
        })
    ],
    yAxis: [
        barYAxis(0, promoBacteria, { axisLabel: { fontSize: 8, fontWeight: 'bold', fontStyle: 'italic', color: '#111', margin: 2, interval: 0 } }),
        barYAxis(1, inhibBacteria, { axisLine: { show: false }, axisTick: { show: false }, axisLabel: { fontSize: 8.3, fontWeight: 'bold', fontStyle: 'italic', color: '#111', margin: 1, interval: 0 } }),
        { gridIndex: 2, type: 'value', min: 0, max: 330, inverse: true, show: false },
        barYAxis(3, pathways, { axisLabel: { fontSize: 6.3, fontWeight: 'bold', color: '#222', margin: 3, interval: 0 } }),
        barYAxis(4, pathways, { axisLabel: { show: false } })
    ],
    graphic: graphics,
    series: series
};

var chart = echarts.init(document.getElementById('main'), null, { renderer: 'canvas' });
chart.setOption(option);
</script>
</body>
</html>
